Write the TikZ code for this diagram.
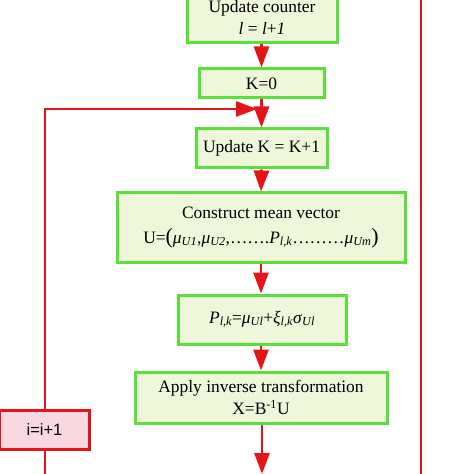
\documentclass[tikz,border=0pt]{standalone}
\usepackage{fontspec}
\setmainfont{Liberation Serif}
\newfontfamily\sansf{Liberation Sans}
\usetikzlibrary{arrows.meta}
\definecolor{boxgreen}{RGB}{90,224,60}
\definecolor{boxfill}{RGB}{238,247,218}
\definecolor{linered}{RGB}{228,20,24}
\definecolor{pinkfill}{RGB}{249,216,226}
\newcommand\sbs[1]{\textsubscript{\itshape #1}}
\tikzset{
  gbox/.style={draw=boxgreen, fill=boxfill, line width=3bp, inner sep=0pt,
    align=center, font=\fontsize{17.5}{21.5}\selectfont},
  rbox/.style={draw=linered, fill=pinkfill, line width=3bp, inner sep=0pt,
    align=center, font=\sansf\fontsize{16.5}{20}\selectfont},
  flow/.style={draw=linered, line width=2.8bp, -{Triangle[length=21bp,width=15bp]}},
  plain/.style={draw=linered, line width=2.8bp},
}
\begin{document}
\begin{tikzpicture}[x=1bp,y=-1bp]
\useasboundingbox (0,0) rectangle (474,474);
\node[gbox, minimum width=150bp, minimum height=51bp] (b1) at (262,17.5)
  {Update counter\\\textit{l} = \textit{l}+\textit{1}};
\node[gbox, minimum width=125bp, minimum height=29bp] (k0) at (261.5,83.5) {K=0};
\node[gbox, minimum width=131bp, minimum height=39bp] (uk) at (261.5,148.5) {Update K = K+1};
\node[gbox, minimum width=288bp, minimum height=69bp] (cm) at (261,227.5)
  {Construct mean vector\\[3bp]
   U={\fontsize{22}{22}\selectfont(}\textit{μ}\sbs{U1},\textit{μ}\sbs{U2},…….\textit{P}\sbs{l,k}………\textit{μ}\sbs{Um}{\fontsize{22}{22}\selectfont)}};
\node[gbox, minimum width=168bp, minimum height=49bp] (pk) at (262,319.5)
  {\textit{P}\sbs{l,k}=\textit{μ}\sbs{Ul}+\textit{ξ}\sbs{l,k}\textit{σ}\sbs{Ul}};
\node[gbox, minimum width=252bp, minimum height=51bp] (ai) at (261,397.5)
  {Apply inverse transformation\\X=B\textsuperscript{-1}U};
\node[rbox, minimum width=89bp, minimum height=39bp] (ii) at (44.5,429.5) {i=i+1};
\coordinate (bot) at (262,474);
\coordinate (lbot) at (45,474);
\coordinate (corner) at (45,109);
\coordinate (join) at (257,109);
\coordinate (rtop) at (421,0);
\coordinate (rbot) at (421,474);
\draw[flow] (b1.south -| k0.north) -- (k0.north);
\draw[flow] (k0.south) -- (uk.north);
\draw[flow] (uk.south) -- (cm.south |- cm.north);
\draw[flow] (cm.south) -- (cm.south |- pk.north);
\draw[flow] (pk.south -| ai.north) -- (ai.north);
\draw[flow] (ai.south -| bot) -- (bot);
\draw[plain] (lbot) -- (ii.south -| lbot);
\draw[flow] (ii.north -| corner) -- (corner) -- (join);
\draw[draw=linered, line width=2.2bp] (rtop) -- (rbot);
\end{tikzpicture}
\end{document}
